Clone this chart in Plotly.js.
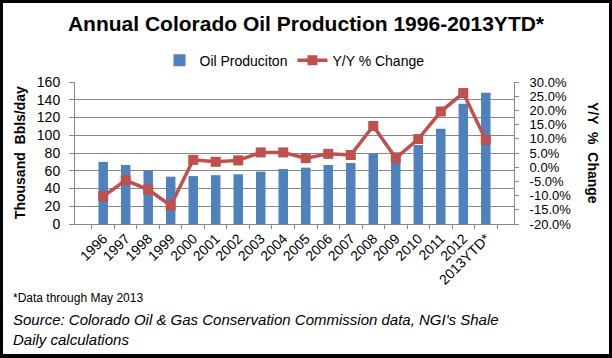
<!DOCTYPE html>
<html>
<head>
<meta charset="utf-8">
<script src="https://cdn.plot.ly/plotly-3.0.1.min.js"></script>
<style>
html,body{margin:0;padding:0;background:#fff;}
#wrap{position:relative;width:612px;height:358px;}
#chart{position:absolute;left:0;top:0;width:612px;height:358px;}
#frame{position:absolute;left:0;top:0;width:612px;height:358px;box-sizing:border-box;border-style:solid;border-color:#000;border-width:3px 3px 4px 3px;pointer-events:none;}
</style>
</head>
<body>
<div id="wrap"><div id="chart"></div><div id="frame"></div></div>
<script>
const years = ["1996","1997","1998","1999","2000","2001","2002","2003","2004","2005","2006","2007","2008","2009","2010","2011","2012","2013YTD*"];
const production = [70, 66.5, 60.8, 53.3, 54, 55, 56, 59, 62, 63.5, 66.5, 68.7, 79.2, 80.8, 89, 107.4, 135.6, 148];
const yoyChange = [-10.3, -4.6, -7.9, -13.5, 2.6, 1.9, 2.4, 5.2, 5.2, 3.2, 4.7, 4.3, 14.5, 3.2, 9.9, 19.6, 26.1, 9.6];
const leftTicks = [0,20,40,60,80,100,120,140,160];
const rightTicks = [-20,-15,-10,-5,0,5,10,15,20,25,30];

const font = "Arial, 'Liberation Sans', sans-serif";

const traces = [
  {
    type: "bar", name: "Oil Produciton", x: years, y: production,
    marker: {color: "#4F81BD"}, yaxis: "y"
  },
  {
    type: "scatter", mode: "lines+markers", name: "Y/Y % Change", x: years, y: yoyChange,
    yaxis: "y2",
    line: {color: "#C0504D", width: 3.5},
    marker: {symbol: "square", size: 10, color: "#C0504D"}
  }
];

const layout = {
  width: 612, height: 358,
  margin: {l: 75, r: 98, t: 82, b: 134},
  paper_bgcolor: "#fff", plot_bgcolor: "#fff",
  font: {family: font, size: 14, color: "#000"},
  title: {text: "<b>Annual Colorado Oil Production 1996-2013YTD*</b>", font: {family: font, size: 21, color: "#000"}, x: 0.5, xanchor: "center", y: 0.935, yanchor: "middle"},
  showlegend: true,
  legend: {orientation: "h", x: 0.5, xanchor: "center", y: 1.15, yanchor: "middle", font: {family: font, size: 14}, traceorder: "normal", itemwidth: 30},
  bargap: 0.58,
  xaxis: {
    type: "category", tickangle: -45, tickson: "boundaries", ticks: "outside", ticklen: 4, tickcolor: "#888",
    showline: true, linecolor: "#888", linewidth: 1, showgrid: false, tickfont: {family: font, size: 14}
  },
  yaxis: {
    range: [0, 160], tickvals: leftTicks, ticktext: leftTicks.map(String),
    showgrid: true, gridcolor: "#888", gridwidth: 1, showline: true, linecolor: "#888",
    ticks: "outside", ticklen: 5, tickcolor: "#888", zeroline: false, ticklabelstandoff: 6,
    tickfont: {family: font, size: 14}
  },
  yaxis2: {
    overlaying: "y", side: "right", range: [-20, 30], tickvals: rightTicks,
    ticktext: rightTicks.map(v => v.toFixed(1) + "%"),
    showgrid: false, zeroline: false, showline: true, linecolor: "#888",
    ticks: "outside", ticklen: 4, tickcolor: "#888", ticklabelstandoff: 8, tickfont: {family: font, size: 13}
  },
  annotations: [
    {text: "<b>Thousand  Bbls/day</b>", xref: "paper", yref: "paper", x: -0.125, y: 0.5, xanchor: "center", yanchor: "middle", textangle: -90, showarrow: false, font: {family: font, size: 14}},
    {text: "<b>Y/Y  %  Change</b>", xref: "paper", yref: "paper", x: 1.18, y: 0.5, xanchor: "center", yanchor: "middle", textangle: 90, showarrow: false, font: {family: font, size: 14}},
    {text: "*Data through May 2013", xref: "paper", yref: "paper", x: -0.145, y: -0.52, xanchor: "left", yanchor: "middle", showarrow: false, font: {family: font, size: 12}},
    {text: "<i>Source: Colorado Oil &amp; Gas Conservation Commission data, NGI's Shale<br>Daily calculations</i>", xref: "paper", yref: "paper", x: -0.145, y: -0.74, xanchor: "left", yanchor: "middle", align: "left", showarrow: false, font: {family: font, size: 15}}
  ]
};

Plotly.newPlot("chart", traces, layout, {displayModeBar: false, staticPlot: true});
</script>
</body>
</html>
